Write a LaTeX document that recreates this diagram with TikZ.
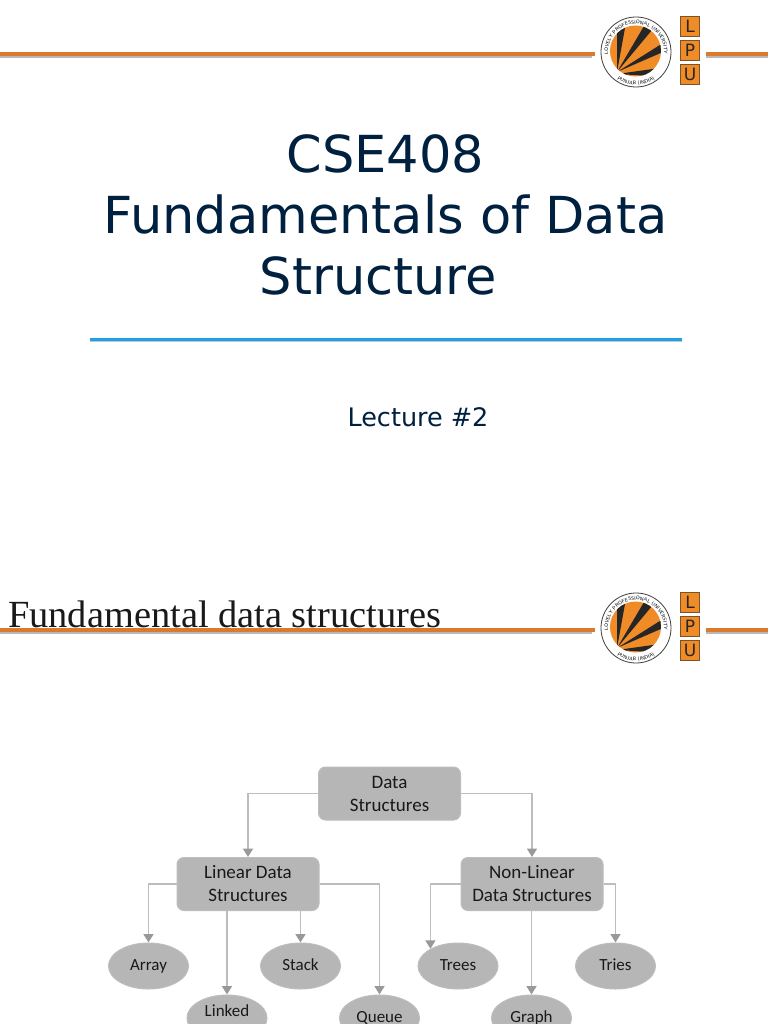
\documentclass[tikz,border=0pt]{standalone}
\usepackage{fontspec}
\setmainfont{DejaVu Sans}
\newfontfamily\slidefont{Liberation Serif}
\newfontfamily\chartfont{Carlito}
\usetikzlibrary{shapes.geometric,decorations.text,arrows.meta}
\definecolor{navy}{HTML}{002040}
\definecolor{lpuorange}{HTML}{DC7A2C}
\definecolor{seal}{HTML}{F08C28}
\definecolor{sky}{HTML}{1BA1E6}
\definecolor{boxgrey}{HTML}{B6B6B6}
\definecolor{linkgrey}{HTML}{BDBDBD}
\tikzset{
  bandmain/.style={line width=4.5pt,lpuorange},
  bandshadow/.style={line width=1.5pt,gray!55},
  titletext/.style={text=navy,font=\fontsize{51}{61}\selectfont,align=center,inner sep=0pt},
  boxnode/.style={draw=linkgrey,line width=1pt,fill=boxgrey,rounded corners=7pt,minimum width=142pt,minimum height=53pt,inner sep=0pt,align=center,text=black!90,font=\chartfont\fontsize{19}{23}\selectfont},
  ovalnode/.style={ellipse,draw=linkgrey,line width=1pt,fill=boxgrey,minimum width=80pt,minimum height=46pt,inner sep=0pt,align=center,text height=1.1em,text depth=.21em,text=black!90,font=\chartfont\fontsize{17}{20}\selectfont},
  link/.style={draw=linkgrey,line width=1.7pt,-{Triangle[width=10pt,length=8.5pt,color=gray!80,fill=gray!80]}},
  letterbox/.style={draw=brown!65!black,line width=1.2pt,fill=seal,minimum width=19pt,minimum height=19.5pt,inner sep=0pt,text=black!85,font=\fontsize{17}{17}\selectfont},
  lpulogo/.pic={
    \begin{scope}[x=1pt,y=1pt]
      \draw[black!75,line width=.8pt,fill=white] (0,0) circle (35);
      \fill[seal] (-.5,1) circle (25.5);
      \begin{scope}
        \clip (-.5,1) circle (25.5);
        \fill[black!85] (-19,-20) -- (-19,24) -- (-11,24) -- cycle;
        \fill[black!85] (-19,-20) -- (8,26) -- (16,22) -- cycle;
        \fill[black!85] (-19,-20) -- (27,9) -- (27,0) -- cycle;
        \fill[black!85] (-19,-22) -- (24,-16) -- (15,-24) -- cycle;
      \end{scope}
      \path[decorate,decoration={text along path,text align=center,text={|\sffamily\fontsize{5}{5}\selectfont|LOVELY PROFESSIONAL UNIVERSITY}}] (215:28) arc (215:-35:28);
      \path[decorate,decoration={text along path,text align=center,text={|\sffamily\fontsize{5}{5}\selectfont|PUNJAB (INDIA)}}] (222:33) arc (222:318:33);
      \node[letterbox] (l) at (54,25.5) {L};
      \node[letterbox] (p) at (54,1.5) {P};
      \node[letterbox] (u) at (54,-22.5) {U};
    \end{scope}
  }
}
\begin{document}
\begin{tikzpicture}[x=1pt,y=-1pt]
\useasboundingbox (0,0) rectangle (768,1024);
\fill[white] (0,0) rectangle (768,1024);

% first slide
\draw[bandshadow] (0,57) -- (592,57) (706,57) -- (768,57);
\draw[bandmain] (0,54) -- (595,54) (706,54) -- (768,54);
\pic (logoa) at (636,52) {lpulogo};
\node[titletext] (title) at (385.5,215) {CSE408\\Fundamentals of Data\\Structure\hspace*{14pt}};
\draw[line width=2pt,gray!45] (90,341) -- (682,341);
\draw[line width=3pt,sky] (90,339) -- (682,339);
\node[text=navy,font=\fontsize{25.5}{28}\selectfont,inner sep=0pt] (lecture) at (418,417) {Lecture \#2};

% second slide
\draw[bandshadow] (0,633) -- (592,633) (706,633) -- (768,633);
\draw[bandmain] (0,630) -- (595,630) (706,630) -- (768,630);
\node[anchor=base west,inner sep=0pt,text=black!90,font=\slidefont\fontsize{38.4}{40}\selectfont] (slidetitle) at (8,627) {Fundamental data structures};
\pic (logob) at (636,628) {lpulogo};

% chart
\node[boxnode] (ds) at (389.5,793.5) {Data\\Structures};
\node[boxnode] (ll) at (248,884) {Linear Data\\Structures};
\node[boxnode] (nl) at (532,884) {Non-Linear\\Data Structures};
\node[ovalnode] (array) at (148.5,966) {Array};
\node[ovalnode] (stack) at (300.5,966) {Stack};
\node[ovalnode] (linked) at (227,1018) {};
\node[anchor=base,inner sep=0pt,text=black!90,font=\chartfont\fontsize{17}{20}\selectfont] (linkedtext) at (227,1016) {Linked};
\node[ovalnode] (queue) at (379.5,1018) {Queue};
\node[ovalnode] (trees) at (458,966) {Trees};
\node[ovalnode] (tries) at (615.5,966) {Tries};
\node[ovalnode] (graph) at (531.5,1018) {Graph};

\draw[link] (ds.west) -| (ll.north);
\draw[link] (ds.east) -| (nl.north);
\draw[link] (ll.west) -| (array.north);
\draw[link] (ll.south -| linked.north) -- (linked.north);
\draw[link] (ll.south -| stack.north) -- (stack.north);
\draw[link] (ll.east) -| (queue.north);
\draw[link] (nl.west) -| (trees.148);
\draw[link] (nl.south -| graph.north) -- (graph.north);
\draw[link] (nl.east) -| (tries.north);
\end{tikzpicture}
\end{document}
